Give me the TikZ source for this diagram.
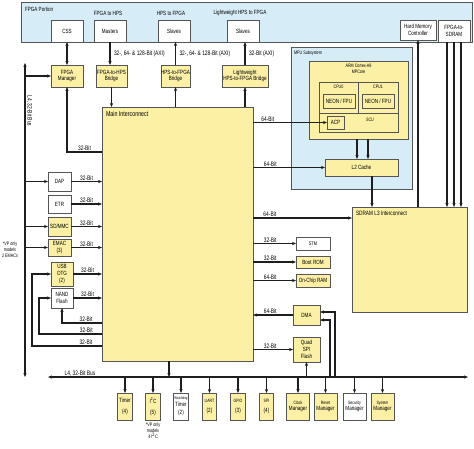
\documentclass[tikz,border=0pt]{standalone}
\usepackage{fontspec}
\setmainfont{Liberation Sans}[FakeStretch=0.75]
\usepackage{xcolor}
\usetikzlibrary{positioning, arrows.meta}

\definecolor{hpsyellow}{RGB}{251,240,164}
\definecolor{fpgablue}{RGB}{214,237,247}
\definecolor{boxline}{RGB}{85,85,85}
\definecolor{wirecol}{RGB}{30,30,30}

\begin{document}
\begin{tikzpicture}[
    x = 1pt, y = -1pt,
    >= {Stealth[length=4pt, width=3.2pt]},
    every node/.style = {inner sep=0pt, outer sep=0pt, font=\fontsize{6.1}{6.8}\selectfont},
    region/.style = {rectangle, draw=boxline, fill=fpgablue, line width=0.6pt},
    hps/.style = {rectangle, draw=boxline, fill=hpsyellow, line width=0.6pt, align=center},
    ext/.style = {rectangle, draw=boxline, fill=white, line width=0.6pt, align=center},
    heading/.style = {font=\fontsize{7.1}{7.6}\selectfont},
    small/.style = {font=\fontsize{4.9}{5.6}\selectfont, align=center},
    note/.style = {font=\fontsize{5}{5.8}\selectfont, align=center},
    lbl/.style = {font=\fontsize{6.5}{7}\selectfont, inner sep=1pt},
    wire/.style = {draw=wirecol, line width=1.05pt}
]
\useasboundingbox (0,0) rectangle (474,448);

% FPGA portion
\node[region, minimum width=451pt, minimum height=40pt] (fpga) at (246.5,22) {};
\node[anchor=north west] (fpgalbl) at ([xshift=4pt,yshift=-5pt]fpga.north west) {FPGA Portion};
\node (f2hlbl) at (108,13) {FPGA to HPS};
\node (h2flbl) at (171,13) {HPS to FPGA};
\node (lwlbl) at (240,13) {Lightweight HPS to FPGA};

\node[ext, minimum width=32pt, minimum height=22pt] (css) at (67,31) {CSS};
\node[ext, minimum width=32pt, minimum height=22pt] (masters) at (110,31) {Masters};
\node[ext, minimum width=32pt, minimum height=22pt] (slaves) at (174,31) {Slaves};
\node[ext, minimum width=32pt, minimum height=22pt] (lwslaves) at (243,31) {Slaves};
\node[ext, minimum width=36pt, minimum height=20pt] (hmc) at (418,30) {Hard Memory\\Controller};
\node[ext, minimum width=32pt, minimum height=22pt] (f2sdram) at (454,31) {FPGA-to-\\SDRAM};

% bridges
\node[hps, minimum width=32pt, minimum height=22pt] (fpgamgr) at (67,76) {FPGA\\Manager};
\node[hps, minimum width=31pt, minimum height=22pt] (f2hbridge) at (111.5,76) {FPGA-to-HPS\\Bridge};
\node[hps, minimum width=29pt, minimum height=22pt] (h2fbridge) at (175.5,76) {HPS-to-FPGA\\Bridge};
\node[hps, minimum width=46pt, minimum height=22pt] (lwbridge) at (245,76) {Lightweight\\HPS-to-FPGA Bridge};

% main interconnect
\node[hps, minimum width=151pt, minimum height=254pt] (main) at (177.5,234) {};
\node[heading, anchor=north west] (mainlbl) at ([xshift=4pt,yshift=-4pt]main.north west) {Main Interconnect};

% MPU subsystem
\node[region, minimum width=121pt, minimum height=142pt] (mpu) at (351.5,118) {};
\node[anchor=north west, font=\fontsize{5}{5.5}\selectfont] (mpulbl) at ([xshift=3pt,yshift=-4pt]mpu.north west) {MPU Subsystem};
\node[hps, minimum width=99pt, minimum height=78pt] (mpcore) at (358.5,100) {};
\node[small, anchor=north] (mpcorelbl) at ([yshift=-3pt]mpcore.north) {ARM Cortex-A9\\MPCore};
\node[hps, minimum width=39pt, minimum height=31pt] (cpu0) at (338.5,97.5) {};
\node[hps, minimum width=40pt, minimum height=31pt] (cpu1) at (378,97.5) {};
\node[hps, minimum width=79pt, minimum height=19pt] (scu) at (358.5,122.5) {};
\node[small, anchor=north] (cpu0lbl) at ([yshift=-3pt]cpu0.north) {CPU0};
\node[small, anchor=north] (cpu1lbl) at ([yshift=-3pt]cpu1.north) {CPU1};
\node[hps, minimum width=32pt, minimum height=14pt] (neon0) at (339,101) {NEON / FPU};
\node[hps, minimum width=32pt, minimum height=14pt] (neon1) at (378,101) {NEON / FPU};
\node[small] (sculbl) at (370,119.5) {SCU};
\node[hps, minimum width=17pt, minimum height=13pt] (acp) at (335.5,122.5) {ACP};
\node[hps, minimum width=73pt, minimum height=17pt] (l2) at (361.5,167.5) {L2 Cache};

% SDRAM
\node[hps, minimum width=115pt, minimum height=105pt] (sdram) at (409.5,259.5) {};
\node[anchor=north west, font=\fontsize{6.3}{6.8}\selectfont] (sdramlbl) at ([xshift=4pt,yshift=-4pt]sdram.north west) {SDRAM L3 Interconnect};

% right side slaves
\node[ext, minimum width=34pt, minimum height=13pt, font=\fontsize{5.2}{5.6}\selectfont] (stm) at (313,243.5) {STM};
\node[hps, minimum width=34pt, minimum height=12pt] (bootrom) at (313,262) {Boot ROM};
\node[hps, minimum width=34pt, minimum height=13pt] (ocram) at (313,280.5) {On-Chip RAM};
\node[hps, minimum width=27pt, minimum height=20pt] (dma) at (306.5,315) {DMA};
\node[hps, minimum width=27pt, minimum height=25pt] (qspi) at (306.5,349.5) {Quad\\SPI\\Flash};

% left side peripherals
\node[ext, minimum width=23pt, minimum height=19pt] (dap) at (59.5,181.5) {DAP};
\node[ext, minimum width=23pt, minimum height=18pt] (etr) at (59.5,204) {ETR};
\node[hps, minimum width=23pt, minimum height=19pt] (sdmmc) at (59.5,226.5) {SD/MMC};
\node[hps, minimum width=23pt, minimum height=17pt] (emac) at (59.5,247.5) {EMAC\\(3)};
\node[hps, minimum width=22pt, minimum height=24pt] (usb) at (62,274) {USB\\OTG\\(2)};
\node[ext, minimum width=22pt, minimum height=20pt] (nand) at (62,298) {NAND\\Flash};
\node[note] (emacnote) at (10,250) {*VP only\\models\\2 EMACs};

% bottom peripherals
\node[hps, minimum width=14.5pt, minimum height=27pt] (timer) at (125,406.5) {Timer\\[4pt](4)};
\node[hps, minimum width=14.5pt, minimum height=27pt] (i2c) at (153,406.5) {I\textsuperscript{2}C\\[4pt](5)};
\node[ext, minimum width=14.5pt, minimum height=27pt] (wdt) at (181,406.5) {{\fontsize{3.9}{4.3}\selectfont Watchdog}\\Timer\\[1pt](2)};
\node[hps, minimum width=14.5pt, minimum height=27pt] (uart) at (209.5,406.5) {{\fontsize{4.7}{5.3}\selectfont UART}\\[4pt](2)};
\node[hps, minimum width=14.5pt, minimum height=27pt] (gpio) at (238,406.5) {{\fontsize{4.7}{5.3}\selectfont GPIO}\\[4pt](3)};
\node[hps, minimum width=14.5pt, minimum height=27pt] (spi) at (266.5,406.5) {{\fontsize{4.7}{5.3}\selectfont SPI}\\[4pt](4)};
\node[hps, minimum width=23pt, minimum height=27pt] (clkmgr) at (298,406.5) {{\fontsize{4.7}{5.3}\selectfont Clock}\\Manager};
\node[hps, minimum width=23pt, minimum height=27pt] (rstmgr) at (325.5,406.5) {{\fontsize{4.7}{5.3}\selectfont Reset}\\Manager};
\node[ext, minimum width=23pt, minimum height=27pt] (secmgr) at (354.5,406.5) {{\fontsize{4.7}{5.3}\selectfont Security}\\Manager};
\node[hps, minimum width=23pt, minimum height=27pt] (sysmgr) at (382.5,406.5) {{\fontsize{4.7}{5.3}\selectfont System}\\Manager};
\node[note, below=3pt of i2c] (i2cnote) {*VP only\\models\\4 I\textsuperscript{2}C};

% L4 buses
\coordinate (l4top) at (25,63);
\coordinate (l4bot) at (25,377);
\coordinate (l4left) at (48,377);
\coordinate (l4right) at (468,377);
\draw[wire, <->] (l4top) -- (l4bot);
\node[lbl, rotate=-90] (l4vlbl) at (29.5,111) {L4, 32-Bit Bus};
\draw[wire, <->] (l4left) -- node[lbl, above, pos=0.076] {L4, 32-Bit Bus} (l4right);

% FPGA side connections
\draw[wire, <->] (css) -- (fpgamgr);
\draw[wire, ->] (masters.south) -- node[lbl, right=3pt] {32-, 64- \& 128-Bit (AXI)} (masters.south |- f2hbridge.north);
\draw[wire, ->] (h2fbridge.north) -- node[lbl, right=3pt] {32-, 64- \& 128-Bit (AXI)} (h2fbridge.north |- slaves.south);
\draw[wire, ->] (lwbridge.north) -- node[lbl, right=3pt] {32-Bit (AXI)} (lwbridge.north |- lwslaves.south);
\draw[wire, ->] (f2hbridge) -- (f2hbridge |- main.north);
\draw[wire, ->] (h2fbridge |- main.north) -- (h2fbridge);
\draw[wire, ->] (lwbridge |- main.north) -- (lwbridge);

% left side connections
\coordinate (mgrret) at (67,152);
\coordinate (nandret) at (62,323);
\coordinate (nandret2) at (39,334);
\coordinate (usbret) at (32,346);
\draw[wire, ->] (l4top |- fpgamgr) -- (fpgamgr);
\draw[wire, ->] (main.west |- mgrret) -- node[lbl, above] {32-Bit} (mgrret) -- (fpgamgr);
\draw[wire, ->] (l4top |- dap) -- (dap);
\draw[wire, ->] (l4top |- sdmmc) -- (sdmmc);
\draw[wire, ->] (l4top |- emac) -- (emac);
\draw[wire, ->] (dap) -- node[lbl, above] {32-Bit} (dap -| main.west);
\draw[wire, ->] (etr) -- node[lbl, above] {32-Bit} (etr -| main.west);
\draw[wire, ->] (sdmmc) -- node[lbl, above] {32-Bit} (sdmmc -| main.west);
\draw[wire, ->] (emac) -- node[lbl, above] {32-Bit} (emac -| main.west);
\draw[wire, ->] (usb) -- node[lbl, above] {32-Bit} (usb -| main.west);
\draw[wire, ->] (nand) -- node[lbl, above] {32-Bit} (nand -| main.west);
\draw[wire, ->] (main.west |- nandret) -- node[lbl, above, pos=0.4] {32-Bit} (nandret) -- (nand);
\draw[wire, ->] (main.west |- nandret2) -- node[lbl, above, pos=0.25] {32-Bit} (nandret2) |- (nand);
\draw[wire, ->] (main.west |- usbret) -- node[lbl, above, pos=0.23] {32-Bit} (usbret) |- (usb);

% right side connections
\coordinate (sdramin) at (352,218);
\draw[wire, ->] (main.east |- acp) -- node[lbl, above, pos=0.2] {64-Bit} (acp);
\draw[wire, ->] (main.east |- l2) -- node[lbl, above, pos=0.24] {64-Bit} (l2);
\draw[wire, ->] (main.east |- sdramin) -- node[lbl, above, pos=0.17] {64-Bit} (sdramin -| sdram.west);
\draw[wire, ->] (main.east |- stm) -- node[lbl, above, pos=0.4] {32-Bit} (stm);
\draw[wire, ->] (main.east |- bootrom) -- node[lbl, above, pos=0.4] {32-Bit} (bootrom);
\draw[wire, ->] (main.east |- ocram) -- node[lbl, above, pos=0.4] {64-Bit} (ocram);
\draw[wire, ->] (dma) -- node[lbl, above, pos=0.57] {64-Bit} (dma -| main.east);
\draw[wire, ->] (main.east |- qspi) -- node[lbl, above, pos=0.43] {32-Bit} (qspi);

% MPU and SDRAM connections
\draw[wire, ->] ([xshift=-4.5pt]l2.north |- mpcore.south) -- ([xshift=-4.5pt]l2.north);
\draw[wire, ->] ([xshift=6.5pt]l2.north |- mpcore.south) -- ([xshift=6.5pt]l2.north);
\draw[wire, ->] ([xshift=10.5pt]l2.south) -- ([xshift=10.5pt]l2.south |- sdram.north);
\draw[wire, ->] (hmc |- sdram.north) -- (hmc);
\draw[wire, ->] ([xshift=-7pt]f2sdram.south) -- ([xshift=-7pt]f2sdram.south |- sdram.north);
\draw[wire, ->] (f2sdram.south) -- (f2sdram.south |- sdram.north);
\draw[wire, ->] ([xshift=7pt]f2sdram.south) -- ([xshift=7pt]f2sdram.south |- sdram.north);

% bus taps
\coordinate (mainbus) at (169,377);
\coordinate (dmafeed1) at (335,312);
\coordinate (dmafeed2) at (330,320);
\draw[wire, ->] (mainbus |- main.south) -- (mainbus);
\draw[wire, ->] (qspi |- l4right) -- (qspi);
\draw[wire, ->] (dmafeed1 |- l4right) -- (dmafeed1) -- (dmafeed1 -| dma.east);
\draw[wire, ->] (dmafeed2 |- l4right) -- (dmafeed2) -- (dmafeed2 -| dma.east);
\draw[wire, ->] (timer |- l4left) -- (timer);
\draw[wire, ->] (i2c |- l4left) -- (i2c);
\draw[wire, ->] (wdt |- l4left) -- (wdt);
\draw[wire, ->] (uart |- l4left) -- (uart);
\draw[wire, ->] (gpio |- l4left) -- (gpio);
\draw[wire, ->] (spi |- l4left) -- (spi);
\draw[wire, ->] (clkmgr |- l4left) -- (clkmgr);
\draw[wire, ->] (rstmgr |- l4left) -- (rstmgr);
\draw[wire, ->] (secmgr |- l4left) -- (secmgr);
\draw[wire, ->] (sysmgr |- l4left) -- (sysmgr);

\end{tikzpicture}
\end{document}
